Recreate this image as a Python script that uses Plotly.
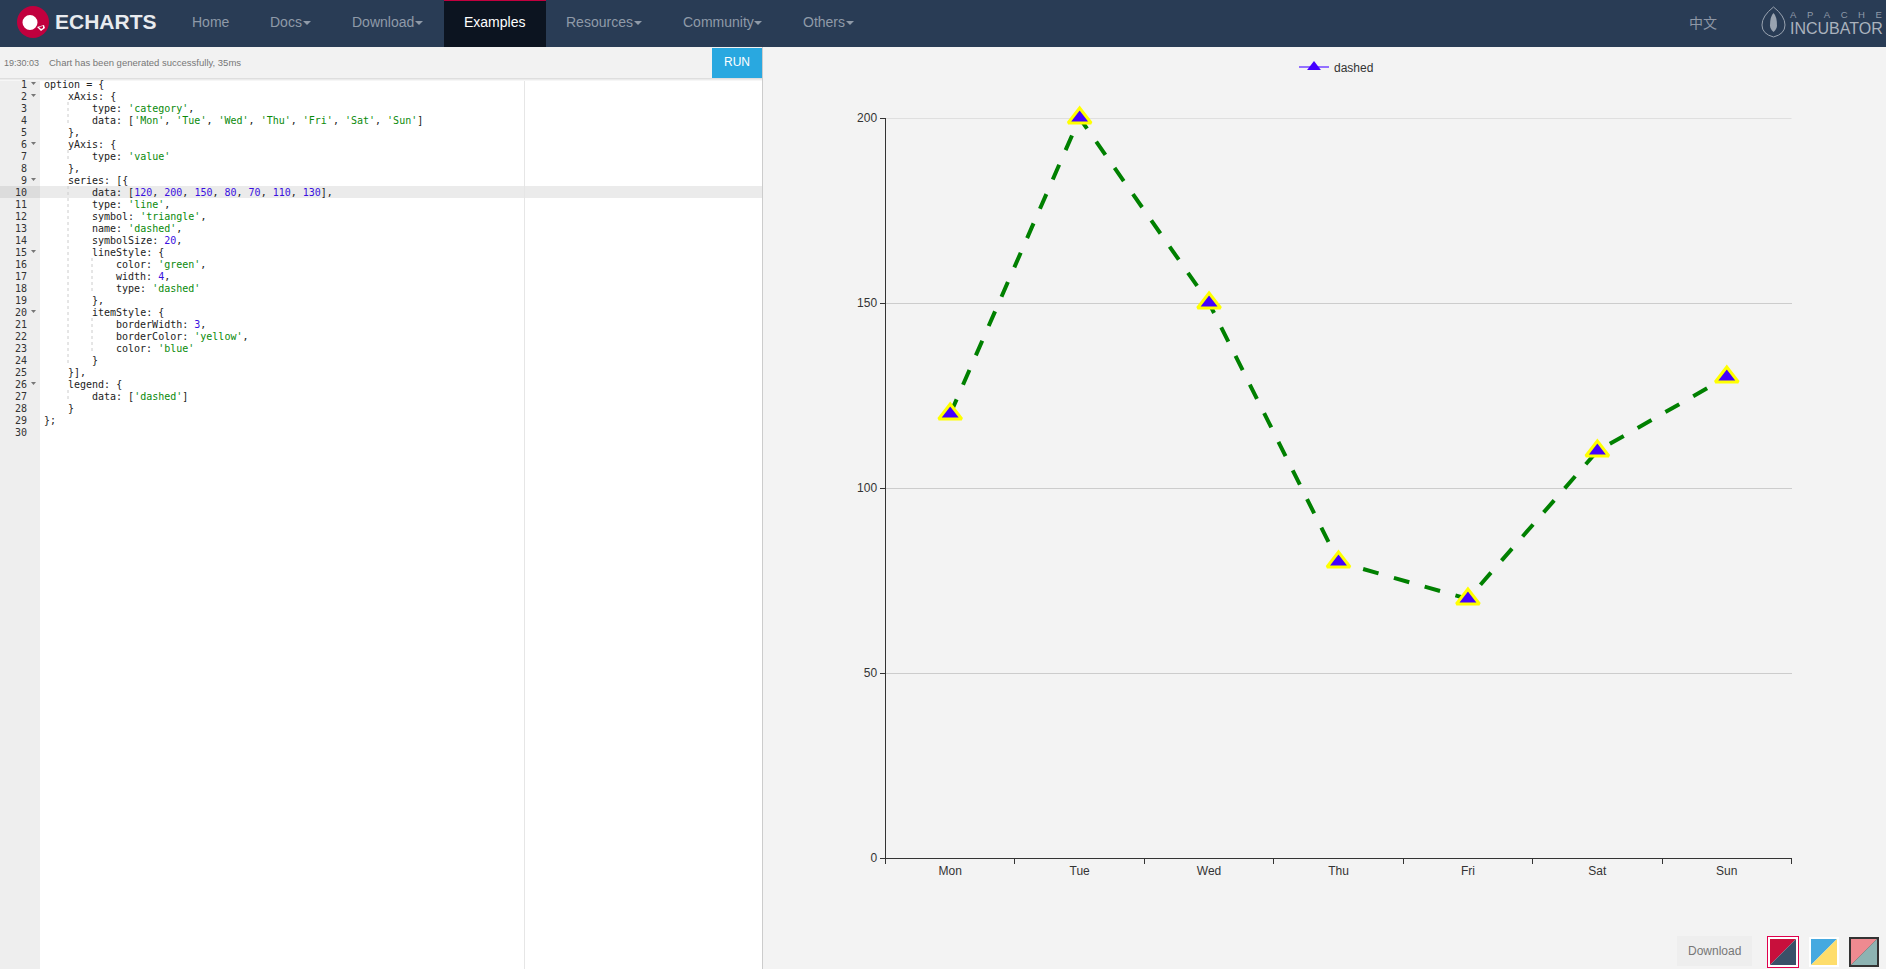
import re
import plotly.graph_objects as go

# Chart data
days = ['Mon', 'Tue', 'Wed', 'Thu', 'Fri', 'Sat', 'Sun']
values = [120, 200, 150, 80, 70, 110, 130]
y_ticks = [0, 50, 100, 150, 200]
series_name = 'dashed'

# Page furniture text
nav_items = ['Home', 'Docs', 'Download', 'Examples', 'Resources', 'Community', 'Others']
nav_left = [192, 270, 352, 464, 566, 683, 803]
nav_caret = [None, 303, 415, None, 634, 754, 846]
code_lines = [
    "option = {",
    "    xAxis: {",
    "        type: 'category',",
    "        data: ['Mon', 'Tue', 'Wed', 'Thu', 'Fri', 'Sat', 'Sun']",
    "    },",
    "    yAxis: {",
    "        type: 'value'",
    "    },",
    "    series: [{",
    "        data: [120, 200, 150, 80, 70, 110, 130],",
    "        type: 'line',",
    "        symbol: 'triangle',",
    "        name: 'dashed',",
    "        symbolSize: 20,",
    "        lineStyle: {",
    "            color: 'green',",
    "            width: 4,",
    "            type: 'dashed'",
    "        },",
    "        itemStyle: {",
    "            borderWidth: 3,",
    "            borderColor: 'yellow',",
    "            color: 'blue'",
    "        }",
    "    }],",
    "    legend: {",
    "        data: ['dashed']",
    "    }",
    "};",
    "",
]
fold_lines = [1, 2, 6, 9, 15, 20, 26]
guides = [(68, 3, 4), (68, 7, 7), (68, 10, 24), (92, 16, 18), (92, 21, 23), (68, 27, 27)]

W = 1886
H = 969

# Pixel to paper helpers, the page is laid out in pixels
def px(x):
    return x / W

def py(y):
    return 1 - y / H

shapes = []
annotations = []

def rect(x0, y0, x1, y1, color):
    shapes.append(dict(type='rect', xref='paper', yref='paper', x0=px(x0), x1=px(x1),
                       y0=py(y0), y1=py(y1), fillcolor=color, line=dict(width=0), layer='below'))

def poly(points, color):
    path = 'M' + 'L'.join(f'{px(a):.5f},{py(b):.5f}' for a, b in points) + 'Z'
    shapes.append(dict(type='path', xref='paper', yref='paper', path=path,
                       fillcolor=color, line=dict(width=0), layer='below'))

def disc(x0, y0, x1, y1, color):
    shapes.append(dict(type='circle', xref='paper', yref='paper', x0=px(x0), x1=px(x1),
                       y0=py(y0), y1=py(y1), fillcolor=color, line=dict(width=0), layer='below'))

def leaf(x0, x1, ytop, ybot, fill, edge):
    xm = (x0 + x1) / 2
    ym = (ytop + ybot) / 2
    path = (f'M{px(xm):.5f},{py(ytop):.5f}Q{px(x1):.5f},{py(ym - 6):.5f} {px(x1):.5f},{py(ym + 3):.5f}'
            f'Q{px(x1):.5f},{py(ybot - 3):.5f} {px(xm):.5f},{py(ybot):.5f}'
            f'Q{px(x0):.5f},{py(ybot - 3):.5f} {px(x0):.5f},{py(ym + 3):.5f}'
            f'Q{px(x0):.5f},{py(ym - 6):.5f} {px(xm):.5f},{py(ytop):.5f}Z')
    shapes.append(dict(type='path', xref='paper', yref='paper', path=path, fillcolor=fill,
                       line=dict(width=1 if edge else 0, color=edge or fill), layer='below'))

def label(x, y, text, color='#333', size=12, family='Liberation Sans', anchor='left'):
    annotations.append(dict(x=px(x), y=py(y), xref='paper', yref='paper', text=text, showarrow=False,
                            xanchor=anchor, yanchor='middle', align='left', borderpad=0, borderwidth=0,
                            font=dict(color=color, size=size, family=family)))

# Top navigation bar
rect(0, 0, W, 47, '#293c55')
rect(444, 0, 546, 47, '#0c1420')
rect(444, 0, 546, 1, '#c1003e')
for name, left, caret in zip(nav_items, nav_left, nav_caret):
    label(left, 22, name, color='#ffffff' if name == 'Examples' else '#8f9aa8', size=14)
    if caret:
        poly([(caret, 21), (caret + 8, 21), (caret + 4, 25)], '#8f9aa8')
label(1703, 22, '中文', color='#8e97a5', size=14, family='Noto Sans CJK SC', anchor='center')

# Logo
disc(17, 6, 49, 38, '#c1003e')
disc(22.5, 15, 37.5, 30, '#ffffff')
poly([(37, 27), (44, 25), (45, 28), (41, 31)], '#ffffff')
poly([(39, 27), (43, 26), (43, 28), (41, 29)], '#c1003e')
label(55, 22, '<b>ECHARTS</b>', color='#e8ebef', size=21, family='Liberation Sans')

# Incubator logo
leaf(1762, 1785, 7, 37, 'rgba(0,0,0,0)', '#99a3b0')
leaf(1770, 1777, 13, 32, '#99a3b0', None)
label(1790, 15, 'A\u00a0\u00a0\u00a0\u00a0P\u00a0\u00a0\u00a0\u00a0A\u00a0\u00a0\u00a0\u00a0C\u00a0\u00a0\u00a0\u00a0H\u00a0\u00a0\u00a0\u00a0E',
      color='#8f9aa8', size=9.5)
label(1790, 29, 'INCUBATOR', color='#aab2bd', size=16)

# Editor panel
rect(0, 47, 762, H, '#ffffff')
rect(0, 78, 40, H, '#eeeeee')
rect(0, 186, 40, 198, '#dcdcdc')
rect(40, 186, 762, 198, '#ebebeb')
rect(524, 78, 525, H, '#e6e6e6')
rect(762, 47, 763, H, '#cccccc')

# Status bar with its soft shadow
rect(0, 78, 762, 79, '#dedede')
rect(0, 79, 762, 80, '#ebebeb')
rect(0, 80, 762, 81, '#f6f6f6')
rect(0, 47, 762, 78, '#f2f2f2')
rect(712, 48, 762, 78, '#29a8e0')
label(4, 63, '19:30:03', color='#777777', size=9)
label(49, 63, 'Chart has been generated successfully, 35ms', color='#777777', size=9.5)
label(737, 62, 'RUN', color='#ffffff', size=12, anchor='center')

# Code with simple syntax colours
def colour_code(line):
    parts = re.split(r"('[^']*'|\b\d+\b)", line.strip())
    out = ''
    for part in parts:
        if part.startswith("'"):
            out += f'<span style="color:#0a8a0a">{part}</span>'
        elif part.isdigit():
            out += f'<span style="color:#3a10e0">{part}</span>'
        else:
            out += part
    return out

for i, line in enumerate(code_lines):
    y = 84.4 + 12 * i
    label(27, y, str(i + 1), color='#333', size=10, family='DejaVu Sans Mono', anchor='right')
    if line:
        indent = len(line) - len(line.lstrip())
        label(44 + 6.02 * indent, y, colour_code(line), color='#222', size=10, family='DejaVu Sans Mono')
for n in fold_lines:
    y = 84 + 12 * (n - 1)
    poly([(31, y - 2), (36, y - 2), (33.5, y + 1)], '#777777')
for x, first, last in guides:
    shapes.append(dict(type='line', xref='paper', yref='paper', x0=px(x), x1=px(x),
                       y0=py(78 + 12 * (first - 1)), y1=py(78 + 12 * last),
                       line=dict(color='#cccccc', width=1, dash='dot'), layer='below'))

# Download button and theme swatches
rect(1677, 936, 1752, 966, '#eeeeee')
label(1714.5, 951, 'Download', color='#777777', size=12, anchor='center')
rect(1767, 936, 1799, 968, '#e0004d')
rect(1768, 937, 1798, 967, '#ffffff')
poly([(1770, 939), (1796, 939), (1770, 965)], '#c8103c')
poly([(1796, 939), (1796, 965), (1770, 965)], '#3a5068')
rect(1809, 937, 1839, 967, '#ffffff')
poly([(1811, 939), (1837, 939), (1811, 965)], '#45a9e0')
poly([(1837, 939), (1837, 965), (1811, 965)], '#fedd6b')
rect(1849, 937, 1879, 967, '#333333')
poly([(1851, 939), (1877, 939), (1851, 965)], '#ef8a90')
poly([(1877, 939), (1877, 965), (1851, 965)], '#8db3b2')

# Plotly leaves out a gridline on the top edge of the plot, so add the top one
shapes.append(dict(type='line', xref='paper', yref='y', x0=px(885.5), x1=px(1791.5),
                   y0=y_ticks[-1], y1=y_ticks[-1], line=dict(color='#cccccc', width=1), layer='below'))

fig = go.Figure()

# Main series
fig.add_trace(go.Scatter(
    x=days,
    y=values,
    mode='lines+markers',
    showlegend=False,
    cliponaxis=False,
    line=dict(color='#008000', width=4, dash='16px,16px'),
    marker=dict(symbol='triangle-up', size=20, color='#4400ff', line=dict(color='#ffff00', width=3))
))

# Legend entry, the legend icon has its own look
fig.add_trace(go.Scatter(
    x=[None],
    y=[None],
    mode='lines+markers',
    name=series_name,
    line=dict(color='#9370ff', width=2),
    marker=dict(symbol='triangle-up', size=12, color='#4400ff')
))

fig.update_layout(
    width=W,
    height=H,
    margin=dict(l=0, r=0, t=0, b=0),
    paper_bgcolor='#f3f3f3',
    plot_bgcolor='#f3f3f3',
    font=dict(family='Liberation Sans', size=12, color='#333'),
    shapes=shapes,
    annotations=annotations,
    legend=dict(x=px(1294), y=py(67), xanchor='left', yanchor='middle', bgcolor='rgba(0,0,0,0)',
                itemwidth=30, font=dict(size=12, color='#333')),
    xaxis=dict(
        domain=[px(885.5), px(1791.5)],
        type='category',
        categoryorder='array',
        categoryarray=days,
        range=[-0.5, 6.5],
        tickson='boundaries',
        ticks='outside',
        ticklen=5,
        tickcolor='#333',
        ticklabelstandoff=2,
        showline=True,
        linecolor='#333',
        showgrid=False,
        zeroline=False,
        automargin=False,
    ),
    yaxis=dict(
        domain=[py(858), py(118)],
        range=[0, 200],
        tickvals=y_ticks,
        ticks='outside',
        ticklen=5,
        tickcolor='#333',
        showline=True,
        linecolor='#333',
        showgrid=True,
        gridcolor='#cccccc',
        zeroline=False,
        automargin=False,
    ),
)

fig.write_html('out.html', config=dict(displayModeBar=False),
               post_script="document.body.style.margin='0';document.body.style.overflow='hidden';")
